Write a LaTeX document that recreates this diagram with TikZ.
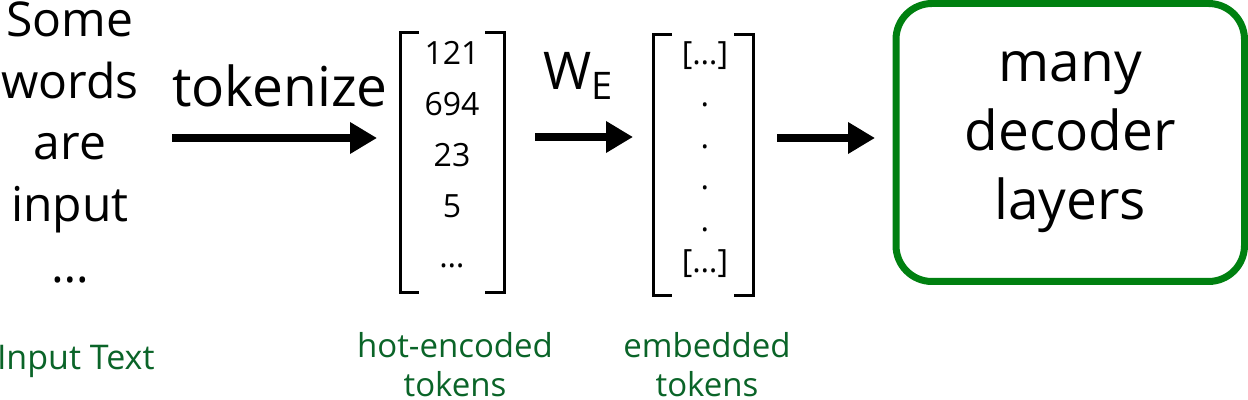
\documentclass[tikz,border=0pt]{standalone}
\usepackage{fontspec}
\setmainfont{Open Sans}
\usetikzlibrary{arrows.meta}
\definecolor{boxgreen}{RGB}{0,128,16}
\definecolor{labgreen}{RGB}{10,100,40}

\begin{document}
\begin{tikzpicture}[x=0.5pt,y=-0.5pt,
  every node/.style={inner sep=0pt,outer sep=0pt,align=center},
  bigarrow/.style={line width=4pt,-{Triangle[length=13.5pt,width=15pt]}},
  brak/.style={line width=1.5pt},
  brakframe/.style={minimum width=52pt,minimum height=130pt},
  vals/.style={font=\fontsize{16}{25.4}\selectfont,anchor=base},
  caption/.style={text=labgreen,font=\fontsize{16.5}{19.5}\selectfont,anchor=base},
  decbox/.style={draw=boxgreen,line width=3.5pt,rounded corners=18pt,
    minimum width=174.25pt,minimum height=139pt,font=\fontsize{27.5}{34.5}\selectfont}]
  \useasboundingbox (0,0) rectangle (1248,400);

  \node[font=\fontsize{24}{30.75}\selectfont,anchor=base] (words) at (70,283) {Some\\words\\are\\input\\…};
  \node[font=\fontsize{27.5}{30}\selectfont,anchor=base] (tok) at (280,107) {tokenize};

  \node[brakframe] (hot) at (452,163) {};
  \node[vals] (hotvals) at (452,268) {121\\694\\23\\5\\…};
  \node[font=\fontsize{26}{30}\selectfont,anchor=base west] (we) at (543,90)
    {W{\fontsize{19}{20}\selectfont\raisebox{-5pt}{E}}};
  \node[brakframe,minimum width=50pt,minimum height=130.5pt] (emb) at (703,165.5) {};
  \node[vals,font=\fontsize{16}{20.8}\selectfont] (embvals) at (705,273) {{[…]}\\.\\.\\.\\.\\{[…]}};

  \node[decbox] (dec) at (1070.25,142.5) {many\\decoder\\layers};

  % green captions under the columns
  \node[caption,font=\fontsize{17}{20.5}\selectfont,anchor=base west] (intext) at (-3,370) {Input Text};
  \node[caption] (hotcap) at (455,397) {hot-encoded\\tokens};
  \node[caption] (embcap) at (707,397) {embedded\\tokens};

  \foreach \m in {hot,emb}{
    \draw[brak] (\m.north west) ++(19,0) -| (\m.south west) -- ++(19,0);
    \draw[brak] (\m.north east) ++(-19,0) -| (\m.south east) -- ++(-19,0);
  }

  \coordinate (a1) at (172,138);
  \coordinate (a2) at (535,137);
  \coordinate (a3) at (777,138);
  \draw[bigarrow,shorten >=11.5pt] (a1) -- (a1 -| hot.west);
  \draw[bigarrow,shorten >=10pt] (a2) -- (a2 -| emb.west);
  \draw[bigarrow,shorten >=10.5pt] (a3) -- (a3 -| dec.west);
\end{tikzpicture}
\end{document}
